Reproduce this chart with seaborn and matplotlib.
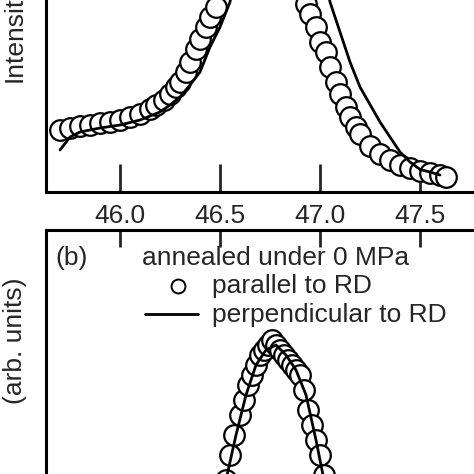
import matplotlib
matplotlib.use("Agg")
import matplotlib.pyplot as plt
import seaborn as sns
from matplotlib.lines import Line2D

sns.set_style("white")
plt.rcParams['font.family'] = ['Liberation Sans', 'DejaVu Sans']

# Panel (a) – parallel (circles)
a_par_x = [45.70,45.75,45.80,45.85,45.90,45.95,46.00,46.05,46.10,46.15,46.18,46.22,46.25,46.28,46.30,46.33,46.35,46.38,46.40,46.43,46.45,46.48,46.52,
           46.90,46.93,46.95,46.98,47.00,47.03,47.05,47.08,47.10,47.13,47.15,47.18,47.20,47.25,47.30,47.35,47.40,47.45,47.50,47.55,47.60,47.63]
a_par_y = [0.124,0.128,0.132,0.134,0.138,0.140,0.144,0.150,0.156,0.166,0.174,0.184,0.196,0.210,0.220,0.240,0.260,0.285,0.305,0.330,0.350,0.370,0.420,
           0.420,0.376,0.355,0.330,0.300,0.280,0.250,0.220,0.195,0.170,0.150,0.130,0.115,0.092,0.076,0.064,0.054,0.048,0.042,0.038,0.034,0.030]
# Panel (a) – perpendicular (line)
a_perp_x = [45.70,45.75,45.80,45.90,46.00,46.10,46.20,46.25,46.30,46.35,46.40,46.45,46.50,46.55,46.65,
            46.95,47.05,47.10,47.15,47.20,47.25,47.30,47.35,47.40,47.45,47.50,47.55,47.60]
a_perp_y = [0.084,0.110,0.120,0.128,0.134,0.144,0.160,0.174,0.190,0.214,0.240,0.290,0.330,0.380,0.600,
            0.600,0.380,0.320,0.260,0.210,0.175,0.140,0.110,0.080,0.060,0.045,0.040,0.034]

# Panel (b)
b_par_x = [46.53,46.55,46.57,46.60,46.62,46.64,46.66,46.68,46.70,46.72,46.74,46.76,46.78,46.80,46.82,46.84,46.86,46.88,46.90,46.92,46.94,46.96,46.98,47.00,47.02]
b_par_y = [0.50,0.55,0.59,0.63,0.66,0.69,0.71,0.73,0.75,0.76,0.77,0.78,0.77,0.76,0.75,0.74,0.73,0.72,0.71,0.68,0.64,0.61,0.58,0.55,0.51]
b_perp_x = [46.53,46.58,46.63,46.68,46.73,46.78,46.83,46.88,46.93,46.98,47.02]
b_perp_y = [0.50,0.59,0.67,0.73,0.76,0.77,0.75,0.72,0.67,0.58,0.50]

W = H = 474
fig = plt.figure(figsize=(4.74, 4.74), dpi=100)

def px_axes(left, top, right, bottom):
    return fig.add_axes([left / W, 1 - bottom / H, (right - left) / W, (bottom - top) / H])

xlim = (46.0 - 74 / 200, 46.0 + (480 - 120) / 200)
ax1 = px_axes(46, -308, 480, 192)
ax2 = px_axes(46, 230, 480, 730)

for ax in (ax1, ax2):
    ax.set_xlim(*xlim)
    ax.set_ylim(0, 1)
    ax.set_xticks([46.0, 46.5, 47.0, 47.5])
    ax.set_yticks([])
    for s in ax.spines.values():
        s.set_linewidth(2.2)
        s.set_color('black')

ax1.tick_params(axis='x', direction='in', length=20, width=2, labelsize=19, pad=9, bottom=True)
ax1.set_xticklabels(["46.0", "46.5", "47.0", "47.5"])
ax2.tick_params(axis='x', direction='in', length=12, width=2, top=True, bottom=False, labelbottom=False)

mk = dict(marker='o', s=220, facecolor='white', edgecolor='black', linewidth=1.6, zorder=2)
sns.lineplot(x=a_perp_x, y=a_perp_y, ax=ax1, color='black', linewidth=2, sort=False, estimator=None, zorder=3)
sns.scatterplot(x=a_par_x, y=a_par_y, ax=ax1, **mk)
sns.scatterplot(x=b_par_x, y=b_par_y, ax=ax2, **mk)
sns.lineplot(x=b_perp_x, y=b_perp_y, ax=ax2, color='black', linewidth=2, sort=False, estimator=None, zorder=3)

fs = 19
fig.text(15 / W, 1 - 82 / H, "Intensity", rotation=90, ha='center', va='bottom', fontsize=19)
fig.text(15 / W, 1 - 278 / H, "(arb. units)", rotation=90, ha='center', va='top', fontsize=19)
fig.text(55 / W, 1 - 258 / H, "(b)", ha='left', va='center', fontsize=fs)
fig.text(142 / W, 1 - 258 / H, "annealed under 0 MPa", ha='left', va='center', fontsize=fs)
fig.text(212 / W, 1 - 286 / H, "parallel to RD", ha='left', va='center', fontsize=fs)
fig.text(212 / W, 1 - 315 / H, "perpendicular to RD", ha='left', va='center', fontsize=fs)
fig.add_artist(Line2D([178 / W], [1 - 286 / H], marker='o', markersize=10, markerfacecolor='white',
                      markeredgecolor='black', markeredgewidth=1.4, transform=fig.transFigure))
fig.add_artist(Line2D([145 / W, 198 / W], [1 - 314 / H, 1 - 314 / H], color='black', linewidth=2,
                      transform=fig.transFigure))

fig.savefig("out.png", dpi=100)
